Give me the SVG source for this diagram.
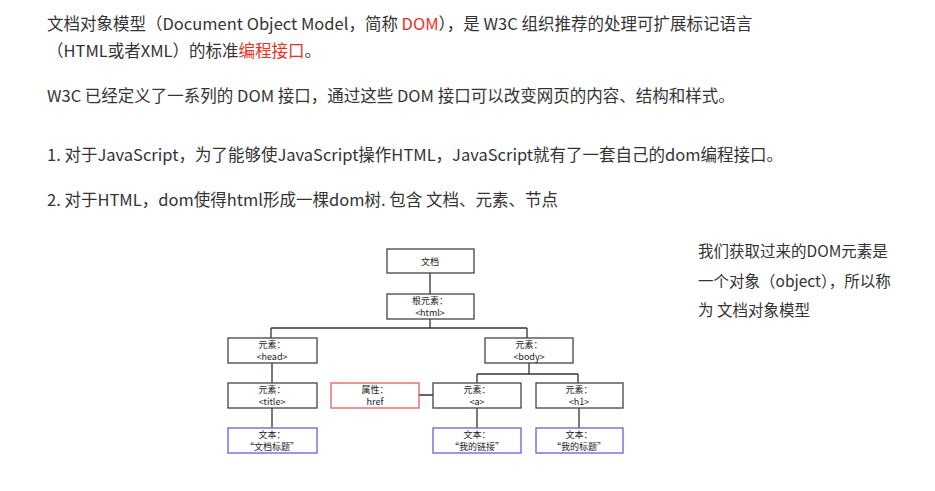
<svg xmlns="http://www.w3.org/2000/svg" width="935" height="491" viewBox="0 0 935 491">
<style>
.t{font-family:"Noto Sans CJK SC","Noto Sans",sans-serif;font-size:16.5px;fill:#333}
.s{font-size:15.5px}
.r{fill:#e8321e}
.n{fill:#fff;stroke:#444;stroke-width:1.3}
.red{stroke:#e06060}
.blue{stroke:#6060e0}
.l{font-family:"Noto Sans CJK SC","Liberation Sans",sans-serif;font-size:9px;fill:#222;text-anchor:middle}
.c{fill:none;stroke:#333;stroke-width:1.3}
</style>
<rect width="935" height="491" fill="#fff"/>
<text class="t" x="47" y="30">文档对象模型（Document Object Model，简称 <tspan class="r">DOM</tspan>），是 W3C 组织推荐的处理可扩展标记语言</text>
<text class="t" x="47" y="57">（HTML或者XML）的标准<tspan class="r">编程接口</tspan>。</text>
<text class="t" x="47" y="102">W3C 已经定义了一系列的 DOM 接口，通过这些 DOM 接口可以改变网页的内容、结构和样式。</text>
<text class="t" x="47" y="161">1. 对于JavaScript，为了能够使JavaScript操作HTML，JavaScript就有了一套自己的dom编程接口。</text>
<text class="t" x="47" y="206">2. 对于HTML，dom使得html形成一棵dom树. 包含 文档、元素、节点</text>
<text class="t s" x="698" y="257">我们获取过来的DOM元素是</text>
<text class="t s" x="698" y="287">一个对象（object），所以称</text>
<text class="t s" x="698" y="316">为 文档对象模型</text>
<g id="connectors">
<path class="c" d="M430 273V294M430 319V328M271 328H527M271 328V338M527 328V338M272 363V383M272 408V428M529 363V374M477 374H578M477 374V383M578 374V383M419 395H433M477 408V428M579 408V428"/>
</g>
<g id="doc"><rect class="n" x="387" y="249" width="87" height="24"/><text class="l" x="430" y="265">文档</text></g>
<g id="html"><rect class="n" x="387" y="294" width="87" height="25"/><text class="l" x="430" y="303.5">根元素：</text><text class="l" x="430" y="316">&lt;html&gt;</text></g>
<g id="head"><rect class="n" x="228" y="338" width="89" height="25"/><text class="l" x="272" y="347.5">元素：</text><text class="l" x="272" y="360">&lt;head&gt;</text></g>
<g id="body"><rect class="n" x="485" y="338" width="88" height="25"/><text class="l" x="529" y="347.5">元素：</text><text class="l" x="529" y="360">&lt;body&gt;</text></g>
<g id="title"><rect class="n" x="228" y="383" width="89" height="25"/><text class="l" x="272" y="392.5">元素：</text><text class="l" x="272" y="405">&lt;title&gt;</text></g>
<g id="href"><rect class="n red" x="331" y="383" width="88" height="25"/><text class="l" x="375" y="392.5">属性：</text><text class="l" x="375" y="405">href</text></g>
<g id="a"><rect class="n" x="433" y="383" width="88" height="25"/><text class="l" x="477" y="392.5">元素：</text><text class="l" x="477" y="405">&lt;a&gt;</text></g>
<g id="h1"><rect class="n" x="536" y="383" width="87" height="25"/><text class="l" x="579" y="392.5">元素：</text><text class="l" x="579" y="405">&lt;h1&gt;</text></g>
<g id="t1"><rect class="n blue" x="228" y="428" width="89" height="25"/><text class="l" x="272" y="437.5">文本：</text><text class="l" x="272" y="450">“文档标题”</text></g>
<g id="t2"><rect class="n blue" x="433" y="428" width="88" height="25"/><text class="l" x="477" y="437.5">文本：</text><text class="l" x="477" y="450">“我的链接”</text></g>
<g id="t3"><rect class="n blue" x="536" y="428" width="87" height="25"/><text class="l" x="579" y="437.5">文本：</text><text class="l" x="579" y="450">“我的标题”</text></g>
</svg>
